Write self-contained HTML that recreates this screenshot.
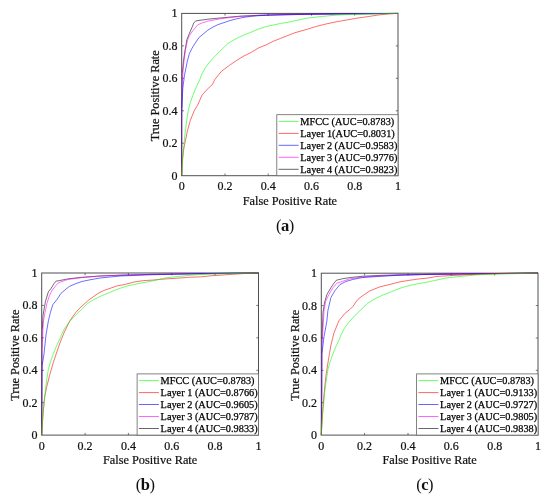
<!DOCTYPE html>
<html lang="en"><head><meta charset="utf-8"><title>ROC curves</title>
<style>html,body{margin:0;padding:0;background:#fff}svg{display:block}text{font-family:"Liberation Serif","Times New Roman",serif;fill:#111;stroke:#111;stroke-width:0.22px}.tk{font-size:12px}.lb{font-size:12.3px}.lg{font-size:10.3px;fill:#000;stroke:#000;stroke-width:0.25px}.cap{font-size:16.5px;fill:#111;stroke:none;letter-spacing:-0.5px}</style></head><body>
<svg width="550" height="503" viewBox="0 0 550 503">
<rect width="550" height="503" fill="#fff"/>
<g id="plot-a">
<rect x="181.7" y="13.4" width="216.3" height="162.3" fill="none" stroke="#505050" stroke-width="1"/>
<path d="M225.0,175.7v-2.2M225.0,13.4v2.2M181.7,143.2h2.2M398.0,143.2h-2.2M268.2,175.7v-2.2M268.2,13.4v2.2M181.7,110.8h2.2M398.0,110.8h-2.2M311.5,175.7v-2.2M311.5,13.4v2.2M181.7,78.3h2.2M398.0,78.3h-2.2M354.7,175.7v-2.2M354.7,13.4v2.2M181.7,45.9h2.2M398.0,45.9h-2.2" stroke="#505050" stroke-width="0.8" fill="none"/>
<g>
<polyline points="181.7,175.7 181.6,120.8 182.0,95.8 182.4,72.8" fill="none" stroke="#000000" stroke-width="0.8" stroke-opacity="0.42"/>
<polyline points="182.4,72.8 183.5,60.8 185.0,50.5 186.9,39.6 188.9,34.6 191.9,27.7 193.9,22.7 195.9,20.9 207.8,19.2 222.0,17.8 240.0,16.2 260.0,15.2 290.0,14.4 398.0,13.4" fill="none" stroke="#000000" stroke-width="0.8" stroke-opacity="0.7" stroke-linejoin="round"/>
<polyline points="181.7,175.7 181.7,120.8 182.0,90.8" fill="none" stroke="#ff00ff" stroke-width="0.8" stroke-opacity="0.43"/>
<polyline points="182.0,90.8 183.0,70.8 184.0,60.8 185.4,50.5 187.4,40.6 189.4,35.6 192.9,30.7 197.9,24.7 202.8,22.7 207.8,21.2 212.8,20.2 222.0,18.5 240.0,16.4 260.0,15.4 300.0,14.4 398.0,13.4" fill="none" stroke="#ff00ff" stroke-width="0.8" stroke-opacity="0.72" stroke-linejoin="round"/>
<polyline points="181.7,175.7 181.7,130.8 181.9,107.5" fill="none" stroke="#0000ff" stroke-width="0.8" stroke-opacity="0.43"/>
<polyline points="181.9,107.5 182.8,88.1 184.5,75.2 187.2,61.8 189.4,53.5 191.9,48.5 194.9,43.6 198.9,37.6 203.8,33.6 207.8,30.2 212.8,27.2 217.7,24.7 222.3,23.2 229.5,20.7 236.8,18.8 244.0,17.3 251.4,16.3 258.6,15.7 265.9,15.3 273.0,15.0 290.0,14.7 320.0,14.1 398.0,13.4" fill="none" stroke="#0000ff" stroke-width="0.8" stroke-opacity="0.72" stroke-linejoin="round"/>
<polyline points="181.7,175.7 182.2,162.5 183.6,149.8 185.4,140.8 187.2,131.8 190.3,120.5 194.2,110.8 198.1,104.2 202.0,95.1 207.2,89.3 212.3,84.6 214.9,79.4 221.4,71.4 229.5,65.3 236.8,60.3 244.0,55.9 251.4,52.3 258.6,47.9 265.9,45.0 273.2,41.3 280.5,38.4 287.7,35.5 295.0,32.7 306.0,29.6 316.4,26.4 326.8,23.8 337.3,21.6 347.8,19.8 358.0,18.0 368.7,16.5 379.0,14.9 389.6,13.9 398.0,13.4" fill="none" stroke="#ff0000" stroke-width="0.8" stroke-opacity="0.72" stroke-linejoin="round"/>
<polyline points="181.7,175.7 182.0,169.8 182.8,156.8 184.0,144.6 185.0,133.8 186.7,120.5 188.3,110.1 190.4,102.4 193.2,94.6 196.4,86.8 200.0,79.1 201.5,75.0 204.8,68.6 209.2,62.6 214.6,56.6 220.0,51.2 224.3,47.0 227.6,43.8 233.1,40.3 238.5,37.5 244.0,35.0 249.4,32.9 254.9,30.6 258.5,29.1 265.8,26.7 273.1,25.0 280.4,23.5 287.6,22.3 294.8,20.8 305.8,18.3 315.8,17.1 326.8,16.0 336.8,15.1 347.8,14.6 368.7,14.0 397.7,13.4" fill="none" stroke="#00ff00" stroke-width="0.8" stroke-opacity="0.72" stroke-linejoin="round"/>
</g>
<text class="tk" x="181.7" y="190.3" text-anchor="middle">0</text>
<text class="tk" x="177.5" y="179.7" text-anchor="end">0</text>
<text class="tk" x="225.0" y="190.3" text-anchor="middle">0.2</text>
<text class="tk" x="177.5" y="147.2" text-anchor="end">0.2</text>
<text class="tk" x="268.2" y="190.3" text-anchor="middle">0.4</text>
<text class="tk" x="177.5" y="114.8" text-anchor="end">0.4</text>
<text class="tk" x="311.5" y="190.3" text-anchor="middle">0.6</text>
<text class="tk" x="177.5" y="82.3" text-anchor="end">0.6</text>
<text class="tk" x="354.7" y="190.3" text-anchor="middle">0.8</text>
<text class="tk" x="177.5" y="49.9" text-anchor="end">0.8</text>
<text class="tk" x="398.0" y="190.3" text-anchor="middle">1</text>
<text class="tk" x="177.5" y="17.4" text-anchor="end">1</text>
<text class="lb" x="289.9" y="204.8" text-anchor="middle">False Positive Rate</text>
<text class="lb" transform="translate(159.0,95.8) rotate(-90)" text-anchor="middle">True Positive Rate</text>
<rect x="276.8" y="114.7" width="121.2" height="61.0" fill="#fff" stroke="#666" stroke-width="0.8"/>
<line x1="278.6" y1="121.4" x2="298.6" y2="121.4" stroke="#00ff00" stroke-width="0.75" stroke-opacity="0.8"/>
<text class="lg" x="300.3" y="124.8">MFCC (AUC=0.8783)</text>
<line x1="278.6" y1="133.4" x2="298.6" y2="133.4" stroke="#ff0000" stroke-width="0.75" stroke-opacity="0.8"/>
<text class="lg" x="300.3" y="136.8">Layer 1(AUC=0.8031)</text>
<line x1="278.6" y1="145.3" x2="298.6" y2="145.3" stroke="#0000ff" stroke-width="0.75" stroke-opacity="0.8"/>
<text class="lg" x="300.3" y="148.7">Layer 2 (AUC=0.9583)</text>
<line x1="278.6" y1="157.3" x2="298.6" y2="157.3" stroke="#ff00ff" stroke-width="0.75" stroke-opacity="0.8"/>
<text class="lg" x="300.3" y="160.7">Layer 3 (AUC=0.9776)</text>
<line x1="278.6" y1="169.3" x2="298.6" y2="169.3" stroke="#000000" stroke-width="0.75" stroke-opacity="0.8"/>
<text class="lg" x="300.3" y="172.7">Layer 4 (AUC=0.9823)</text>
<text class="cap" x="284.9" y="230.9" text-anchor="middle">(<tspan font-weight="bold">a</tspan>)</text>
</g>
<g id="plot-b">
<rect x="41.7" y="273.0" width="216.8" height="162.1" fill="none" stroke="#505050" stroke-width="1"/>
<path d="M85.1,435.1v-2.2M85.1,273.0v2.2M41.7,402.7h2.2M258.5,402.7h-2.2M128.4,435.1v-2.2M128.4,273.0v2.2M41.7,370.3h2.2M258.5,370.3h-2.2M171.8,435.1v-2.2M171.8,273.0v2.2M41.7,337.8h2.2M258.5,337.8h-2.2M215.1,435.1v-2.2M215.1,273.0v2.2M41.7,305.4h2.2M258.5,305.4h-2.2" stroke="#505050" stroke-width="0.8" fill="none"/>
<g>
<polyline points="41.7,435.1 41.9,380.8 42.4,328.8" fill="none" stroke="#000000" stroke-width="0.8" stroke-opacity="0.42"/>
<polyline points="42.4,328.8 43.0,315.5 45.4,301.6 48.4,291.7 50.9,288.7 53.9,283.7 55.9,281.2 58.9,280.7 67.8,278.9 82.0,277.3 100.0,276.0 120.0,275.2 150.0,274.4 258.5,273.0" fill="none" stroke="#000000" stroke-width="0.8" stroke-opacity="0.7" stroke-linejoin="round"/>
<polyline points="41.7,435.1 41.9,380.8 42.0,348.8" fill="none" stroke="#ff00ff" stroke-width="0.8" stroke-opacity="0.43"/>
<polyline points="42.0,348.8 43.0,328.8 43.5,320.8 45.0,312.5 46.9,303.6 49.4,295.6 51.9,290.7 54.9,286.7 57.9,283.2 60.8,281.9 67.8,279.5 82.0,277.6 100.0,276.0 130.0,274.8 180.0,273.8 258.5,273.0" fill="none" stroke="#ff00ff" stroke-width="0.8" stroke-opacity="0.72" stroke-linejoin="round"/>
<polyline points="41.7,435.1 42.0,400.8 42.3,364.8" fill="none" stroke="#0000ff" stroke-width="0.8" stroke-opacity="0.43"/>
<polyline points="42.3,364.8 44.0,353.8 46.0,334.8 48.4,320.8 50.4,312.5 52.9,304.6 56.9,299.6 60.8,293.6 65.8,289.2 69.8,286.2 75.7,283.7 82.0,281.5 90.0,279.8 100.0,278.0 120.0,276.0 150.0,274.8 200.0,273.6 258.5,273.0" fill="none" stroke="#0000ff" stroke-width="0.8" stroke-opacity="0.72" stroke-linejoin="round"/>
<polyline points="41.7,435.1 42.3,424.8 43.4,409.8 44.7,396.8 46.6,387.4 49.5,375.8 53.2,362.8 57.0,351.5 60.0,342.8 64.0,332.8 69.8,320.8 75.7,312.5 80.0,307.9 89.1,299.7 98.2,293.3 103.6,290.6 116.4,286.1 125.5,284.3 134.5,281.9 143.6,280.6 152.7,280.1 161.8,279.2 170.9,278.6 180.0,278.0 188.6,277.3 201.7,276.8 210.5,275.8 221.4,275.1 232.3,274.3 243.0,273.6 258.5,273.0" fill="none" stroke="#ff0000" stroke-width="0.8" stroke-opacity="0.72" stroke-linejoin="round"/>
<polyline points="41.7,435.1 42.0,429.2 42.8,416.2 44.0,404.0 45.0,393.3 46.7,380.0 48.3,369.6 50.4,361.9 53.2,354.1 56.4,346.3 60.0,338.6 61.5,334.5 64.8,328.1 69.2,322.1 74.6,316.1 80.1,310.8 84.4,306.6 87.7,303.4 93.2,299.9 98.7,297.1 104.2,294.6 109.6,292.5 115.1,290.2 118.7,288.7 126.0,286.3 133.3,284.6 140.6,283.1 147.8,281.9 155.1,280.3 166.1,277.8 176.1,276.7 187.1,275.6 197.1,274.7 208.2,274.2 229.2,273.6 258.2,273.0" fill="none" stroke="#00ff00" stroke-width="0.8" stroke-opacity="0.72" stroke-linejoin="round"/>
</g>
<text class="tk" x="41.7" y="449.7" text-anchor="middle">0</text>
<text class="tk" x="37.5" y="439.1" text-anchor="end">0</text>
<text class="tk" x="85.1" y="449.7" text-anchor="middle">0.2</text>
<text class="tk" x="37.5" y="406.7" text-anchor="end">0.2</text>
<text class="tk" x="128.4" y="449.7" text-anchor="middle">0.4</text>
<text class="tk" x="37.5" y="374.3" text-anchor="end">0.4</text>
<text class="tk" x="171.8" y="449.7" text-anchor="middle">0.6</text>
<text class="tk" x="37.5" y="341.8" text-anchor="end">0.6</text>
<text class="tk" x="215.1" y="449.7" text-anchor="middle">0.8</text>
<text class="tk" x="37.5" y="309.4" text-anchor="end">0.8</text>
<text class="tk" x="258.5" y="449.7" text-anchor="middle">1</text>
<text class="tk" x="37.5" y="277.0" text-anchor="end">1</text>
<text class="lb" x="150.1" y="464.2" text-anchor="middle">False Positive Rate</text>
<text class="lb" transform="translate(19.0,355.2) rotate(-90)" text-anchor="middle">True Positive Rate</text>
<rect x="137.1" y="373.9" width="121.4" height="61.2" fill="#fff" stroke="#666" stroke-width="0.8"/>
<line x1="138.9" y1="380.6" x2="158.9" y2="380.6" stroke="#00ff00" stroke-width="0.75" stroke-opacity="0.8"/>
<text class="lg" x="160.6" y="384.0">MFCC (AUC=0.8783)</text>
<line x1="138.9" y1="392.6" x2="158.9" y2="392.6" stroke="#ff0000" stroke-width="0.75" stroke-opacity="0.8"/>
<text class="lg" x="160.6" y="396.0">Layer 1 (AUC=0.8766)</text>
<line x1="138.9" y1="404.5" x2="158.9" y2="404.5" stroke="#0000ff" stroke-width="0.75" stroke-opacity="0.8"/>
<text class="lg" x="160.6" y="407.9">Layer 2 (AUC=0.9605)</text>
<line x1="138.9" y1="416.5" x2="158.9" y2="416.5" stroke="#ff00ff" stroke-width="0.75" stroke-opacity="0.8"/>
<text class="lg" x="160.6" y="419.9">Layer 3 (AUC=0.9787)</text>
<line x1="138.9" y1="428.5" x2="158.9" y2="428.5" stroke="#000000" stroke-width="0.75" stroke-opacity="0.8"/>
<text class="lg" x="160.6" y="431.9">Layer 4 (AUC=0.9833)</text>
<text class="cap" x="145.1" y="490.3" text-anchor="middle">(<tspan font-weight="bold">b</tspan>)</text>
</g>
<g id="plot-c">
<rect x="321.3" y="273.2" width="216.7" height="161.9" fill="none" stroke="#505050" stroke-width="1"/>
<path d="M364.6,435.1v-2.2M364.6,273.2v2.2M321.3,402.7h2.2M538.0,402.7h-2.2M408.0,435.1v-2.2M408.0,273.2v2.2M321.3,370.3h2.2M538.0,370.3h-2.2M451.3,435.1v-2.2M451.3,273.2v2.2M321.3,338.0h2.2M538.0,338.0h-2.2M494.7,435.1v-2.2M494.7,273.2v2.2M321.3,305.6h2.2M538.0,305.6h-2.2" stroke="#505050" stroke-width="0.8" fill="none"/>
<g>
<polyline points="321.3,435.1 321.8,390.8 322.0,338.8" fill="none" stroke="#000000" stroke-width="0.8" stroke-opacity="0.42"/>
<polyline points="322.0,338.8 323.0,312.5 324.5,302.6 326.9,294.6 330.9,287.7 333.9,283.2 336.4,280.2 342.8,278.7 349.8,277.6 362.0,276.3 380.0,275.4 400.0,274.8 430.0,274.4 538.0,273.0" fill="none" stroke="#000000" stroke-width="0.8" stroke-opacity="0.7" stroke-linejoin="round"/>
<polyline points="321.3,435.1 321.8,390.8 322.0,344.8" fill="none" stroke="#ff00ff" stroke-width="0.8" stroke-opacity="0.43"/>
<polyline points="322.0,344.8 323.5,320.8 324.0,310.5 325.9,300.6 328.9,294.6 332.9,287.7 336.9,283.2 342.8,281.2 349.8,278.9 362.0,277.0 380.0,275.8 410.0,274.8 450.0,273.9 538.0,273.0" fill="none" stroke="#ff00ff" stroke-width="0.8" stroke-opacity="0.72" stroke-linejoin="round"/>
<polyline points="321.3,435.1 321.8,400.8 322.0,352.8" fill="none" stroke="#0000ff" stroke-width="0.8" stroke-opacity="0.43"/>
<polyline points="322.0,352.8 324.0,336.8 326.9,320.8 327.9,310.5 330.9,297.6 334.9,290.7 339.8,284.7 345.8,281.5 352.8,279.5 362.0,277.6 370.0,277.0 380.0,276.4 400.0,275.2 430.0,274.4 538.0,273.0" fill="none" stroke="#0000ff" stroke-width="0.8" stroke-opacity="0.72" stroke-linejoin="round"/>
<polyline points="321.3,435.1 321.9,424.8 322.8,409.8 324.2,392.8 325.7,377.8 327.6,364.8 329.5,353.4 331.0,344.8 334.0,332.8 338.9,320.8 344.8,313.5 349.8,309.5 352.8,306.5 357.7,299.6 362.0,296.1 370.0,290.8 380.0,286.8 390.0,284.4 400.0,281.8 410.0,280.2 420.0,278.8 430.0,277.8 436.0,276.5 447.0,275.8 458.0,275.2 468.6,274.7 490.0,273.8 538.0,273.0" fill="none" stroke="#ff0000" stroke-width="0.8" stroke-opacity="0.72" stroke-linejoin="round"/>
<polyline points="321.3,435.1 321.6,429.2 322.4,416.2 323.6,404.1 324.6,393.3 326.3,380.0 327.9,369.7 330.0,362.0 332.8,354.2 336.0,346.4 339.6,338.7 341.1,334.7 344.4,328.3 348.8,322.3 354.2,316.3 359.7,310.9 364.0,306.7 367.3,303.5 372.8,300.0 378.2,297.2 383.7,294.7 389.1,292.7 394.6,290.4 398.2,288.9 405.5,286.5 412.8,284.8 420.1,283.3 427.3,282.1 434.7,280.5 445.7,278.0 455.7,276.9 466.7,275.8 476.7,274.9 487.7,274.4 508.7,273.8 537.7,273.2" fill="none" stroke="#00ff00" stroke-width="0.8" stroke-opacity="0.72" stroke-linejoin="round"/>
</g>
<text class="tk" x="321.3" y="449.7" text-anchor="middle">0</text>
<text class="tk" x="317.1" y="439.1" text-anchor="end">0</text>
<text class="tk" x="364.6" y="449.7" text-anchor="middle">0.2</text>
<text class="tk" x="317.1" y="406.7" text-anchor="end">0.2</text>
<text class="tk" x="408.0" y="449.7" text-anchor="middle">0.4</text>
<text class="tk" x="317.1" y="374.3" text-anchor="end">0.4</text>
<text class="tk" x="451.3" y="449.7" text-anchor="middle">0.6</text>
<text class="tk" x="317.1" y="342.0" text-anchor="end">0.6</text>
<text class="tk" x="494.7" y="449.7" text-anchor="middle">0.8</text>
<text class="tk" x="317.1" y="309.6" text-anchor="end">0.8</text>
<text class="tk" x="538.0" y="449.7" text-anchor="middle">1</text>
<text class="tk" x="317.1" y="277.2" text-anchor="end">1</text>
<text class="lb" x="429.6" y="464.2" text-anchor="middle">False Positive Rate</text>
<text class="lb" transform="translate(298.6,355.3) rotate(-90)" text-anchor="middle">True Positive Rate</text>
<rect x="416.6" y="373.9" width="121.4" height="61.2" fill="#fff" stroke="#666" stroke-width="0.8"/>
<line x1="418.4" y1="380.6" x2="438.4" y2="380.6" stroke="#00ff00" stroke-width="0.75" stroke-opacity="0.8"/>
<text class="lg" x="440.1" y="384.0">MFCC (AUC=0.8783)</text>
<line x1="418.4" y1="392.6" x2="438.4" y2="392.6" stroke="#ff0000" stroke-width="0.75" stroke-opacity="0.8"/>
<text class="lg" x="440.1" y="396.0">Layer 1 (AUC=0.9133)</text>
<line x1="418.4" y1="404.5" x2="438.4" y2="404.5" stroke="#0000ff" stroke-width="0.75" stroke-opacity="0.8"/>
<text class="lg" x="440.1" y="407.9">Layer 2 (AUC=0.9727)</text>
<line x1="418.4" y1="416.5" x2="438.4" y2="416.5" stroke="#ff00ff" stroke-width="0.75" stroke-opacity="0.8"/>
<text class="lg" x="440.1" y="419.9">Layer 3 (AUC=0.9805)</text>
<line x1="418.4" y1="428.5" x2="438.4" y2="428.5" stroke="#000000" stroke-width="0.75" stroke-opacity="0.8"/>
<text class="lg" x="440.1" y="431.9">Layer 4 (AUC=0.9838)</text>
<text class="cap" x="424.6" y="490.3" text-anchor="middle">(<tspan font-weight="bold">c</tspan>)</text>
</g>
</svg></body></html>
